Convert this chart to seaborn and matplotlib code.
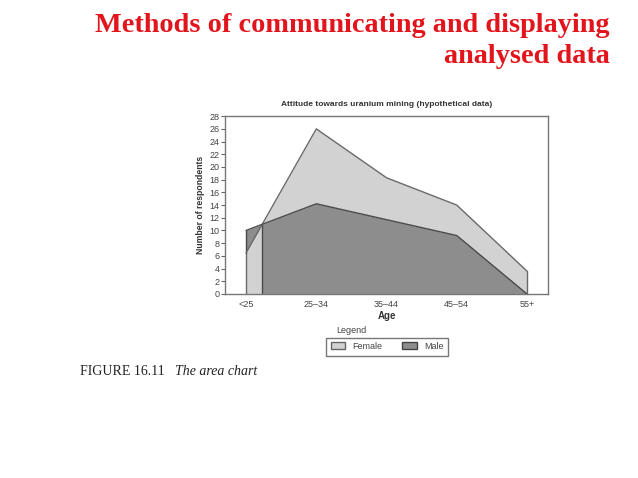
import numpy as np
import pandas as pd
import matplotlib
matplotlib.use("Agg")
import matplotlib.pyplot as plt
import seaborn as sns
from matplotlib.patches import Patch

# ---- data ----
age_groups = ["<25", "25\u201334", "35\u201344", "45\u201354", "55+"]
female = [6.5, 26.0, 18.3, 14.0, 3.6]
male = [10.0, 14.2, 11.7, 9.2, 0.0]
y_ticks = list(range(0, 29, 2))

chart_title = "Attitude towards uranium mining (hypothetical data)"
slide_title_lines = ["Methods of communicating and displaying", "analysed data"]

sns.set_style("white")
plt.rcParams['font.family'] = ['Liberation Sans', 'DejaVu Sans']

fig = plt.figure(figsize=(6.38, 4.78), dpi=100)
ax = fig.add_axes([0.3527, 0.385, 0.5063, 0.372])

x = np.arange(len(age_groups), dtype=float)
f = np.array(female)
m = np.array(male)

# crossing point of the first segment (female rises through male)
d0 = f[0] - m[0]
d1 = f[1] - m[1]
t = d0 / (d0 - d1)
xc = x[0] + t * (x[1] - x[0])
yc = f[0] + t * (f[1] - f[0])

c_f, c_m = "#d2d2d2", "#8d8d8d"
e_f, e_m = "#6a6a6a", "#4a4a4a"

# female area (back)
ax.fill_between(x, 0, f, color=c_f, zorder=1, linewidth=0)
ax.plot([x[-1], x[-1]], [0, f[-1]], color=e_f, lw=1.0, zorder=1.5)
ax.plot([x[0], x[0]], [0, f[0]], color=e_f, lw=1.0, zorder=4)

# male area front part (from crossing to end)
xm = np.concatenate([[xc], x[1:]])
ym = np.concatenate([[yc], m[1:]])
ax.fill_between(xm, 0, ym, color=c_m, zorder=2, linewidth=0)
ax.plot([xc, xc], [0, yc], color=e_m, lw=1.0, zorder=2.5)

# left part: male above female line, female in front below
xl = np.array([x[0], xc])
ax.fill_between(xl, [f[0], yc], [m[0], yc], color=c_m, zorder=3, linewidth=0)
ax.plot([x[0], x[0]], [f[0], m[0]], color=e_m, lw=1.0, zorder=4)

df = pd.DataFrame({"x": np.concatenate([x, x]),
                   "y": np.concatenate([f, m]),
                   "s": ["Female"] * len(x) + ["Male"] * len(x)})
sns.lineplot(data=df, x="x", y="y", hue="s", palette={"Female": e_f, "Male": e_m},
             ax=ax, legend=False, lw=1.0, zorder=5, sort=False)

ax.set_xlim(-0.3, 4.3)
ax.set_ylim(0, 28)
ax.set_xticks(x)
ax.set_xticklabels(age_groups, fontsize=6.5, color="#444444")
ax.set_yticks(y_ticks)
ax.set_yticklabels([str(v) for v in y_ticks], fontsize=6.5, color="#444444")
ax.tick_params(axis="y", length=3, width=0.8, color="#666666", pad=1, left=True)
ax.tick_params(axis="x", length=0, pad=4)
for sp in ax.spines.values():
    sp.set_color("#777777")
    sp.set_linewidth(1.0)

ax.set_xlabel("Age", fontsize=7, fontweight="bold", color="#333333", labelpad=2)
ax.set_ylabel("Number of respondents", fontsize=6.2, fontweight="bold", color="#333333", labelpad=3)
ax.set_title(chart_title, fontsize=6.0, fontweight="bold", color="#333333", pad=7)

# legend
handles = [Patch(facecolor=c_f, edgecolor="#666666", label="Female"),
           Patch(facecolor=c_m, edgecolor="#444444", label="Male")]
leg = fig.legend(handles=handles, loc="center", bbox_to_anchor=(0.6066, 0.275), ncol=2,
                 fontsize=6.5, frameon=True, fancybox=False, edgecolor="#555555",
                 handlelength=1.6, handleheight=0.8, columnspacing=2.2,
                 borderpad=0.5, handletextpad=0.8, labelcolor="#444444")
leg.get_frame().set_linewidth(1.0)
fig.text(0.527, 0.309, "Legend", fontsize=6.5, color="#444444", ha="left", va="center")

# slide title
serif = ["Liberation Serif", "DejaVu Serif"]
fig.text(0.956, 1 - 32 / 478, slide_title_lines[0], fontsize=20.3, fontweight="bold",
         color="#e2141c", ha="right", va="baseline", family=serif)
fig.text(0.956, 1 - 63 / 478, slide_title_lines[1], fontsize=20.3, fontweight="bold",
         color="#e2141c", ha="right", va="baseline", family=serif)

# caption
fig.text(0.125, 0.222, "FIGURE 16.11", fontsize=10, color="#222222", ha="left", va="center",
         family=serif)
fig.text(0.274, 0.222, "The area chart", fontsize=10, style="italic", color="#222222",
         ha="left", va="center", family=serif)

fig.savefig("out.png", dpi=100, facecolor="white")
